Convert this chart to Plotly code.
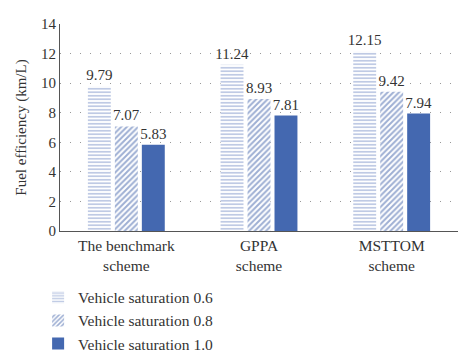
import plotly.graph_objects as go

categories = ["The benchmark<br>scheme", "GPPA<br>scheme", "MSTTOM<br>scheme"]
sat_06 = [9.79, 11.24, 12.15]
sat_08 = [7.07, 8.93, 9.42]
sat_10 = [5.83, 7.81, 7.94]
series_names = ["Vehicle saturation 0.6", "Vehicle saturation 0.8", "Vehicle saturation 1.0"]
y_ticks = [0, 2, 4, 6, 8, 10, 12, 14]

BLUE = "#4468B0"
LIGHT = "#7F95CA"
FONT = "Liberation Serif"

fig = go.Figure()
fig.add_bar(x=categories, y=sat_06, name=series_names[0],
            marker=dict(color="white", line=dict(width=0),
                        pattern=dict(shape="-", fgcolor=LIGHT, bgcolor="white", size=3.5, solidity=0.5)),
            text=[f"{v:.2f}" for v in sat_06])
fig.add_bar(x=categories, y=sat_08, name=series_names[1],
            marker=dict(color="white", line=dict(width=0),
                        pattern=dict(shape="/", fgcolor="#3D5FA8", bgcolor="white", size=4, solidity=0.5)),
            text=[f"{v:.2f}" for v in sat_08])
fig.add_bar(x=categories, y=sat_10, name=series_names[2],
            marker=dict(color=BLUE, line=dict(width=0)),
            text=[f"{v:.2f}" for v in sat_10])

fig.update_traces(textposition="outside", cliponaxis=False, textangle=0, constraintext="none",
                  textfont=dict(family=FONT, size=15, color="#333333"))

fig.update_layout(
    width=466, height=368,
    margin=dict(l=52, r=16, t=16, b=145),
    paper_bgcolor="white", plot_bgcolor="white",
    barmode="group", bargap=0.39, bargroupgap=0.15,
    font=dict(family=FONT, size=15, color="#333333"),
    showlegend=True,
    legend=dict(x=-0.055, xanchor="left", y=-0.24, yanchor="top",
                font=dict(family=FONT, size=15.5, color="#333333"),
                tracegroupgap=0, itemwidth=30, bgcolor="rgba(0,0,0,0)"),
    xaxis=dict(showline=True, linecolor="#555555", linewidth=1, ticks="", tickangle=0,
               automargin=False,
               tickfont=dict(family=FONT, size=15.5, color="#333333")),
    yaxis=dict(range=[0, 14], tickvals=y_ticks, showline=True, linecolor="#555555", linewidth=1,
               showgrid=True, gridcolor="#999999", griddash="1px,9px", gridwidth=1,
               zeroline=False, ticks="", automargin=False,
               tickfont=dict(family=FONT, size=15, color="#333333"),
               title=dict(text="Fuel efficiency (km/L)", font=dict(family=FONT, size=15, color="#333333"),
                          standoff=10)),
)

fig.write_html("out.html")
